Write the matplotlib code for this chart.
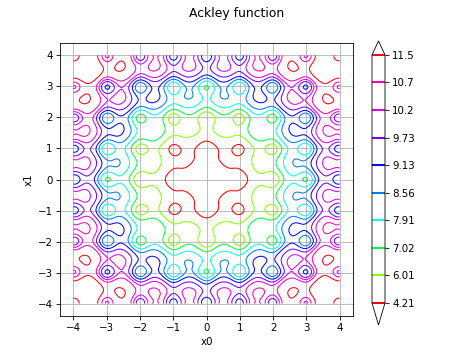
import numpy as np
import matplotlib
matplotlib.use("Agg")
import matplotlib.pyplot as plt

# contour levels shown on the colorbar
levels = [4.21, 6.01, 7.02, 7.91, 8.56, 9.13, 9.73, 10.2, 10.7, 11.5]
level_labels = ["4.21", "6.01", "7.02", "7.91", "8.56", "9.13", "9.73", "10.2", "10.7", "11.5"]
ticks = [-4, -3, -2, -1, 0, 1, 2, 3, 4]

# domain of the Ackley function
x_min, x_max = -4.0, 4.0
n_points = 200


def ackley(x0, x1, a=20.0, b=0.2, c=2.0 * np.pi):
    """Ackley function in 2D."""
    r = np.sqrt(0.5 * (x0 ** 2 + x1 ** 2))
    s = 0.5 * (np.cos(c * x0) + np.cos(c * x1))
    return -a * np.exp(-b * r) - np.exp(s) + a + np.e


x = np.linspace(x_min, x_max, n_points)
X0, X1 = np.meshgrid(x, x)
Z = ackley(X0, X1)

W, H = 474, 355
fig = plt.figure(figsize=(W / 74, H / 74), dpi=74)
ax = fig.add_axes([60 / W, (H - 316) / H, (353 - 60) / W, (316 - 43) / H])

cs = ax.contour(X0, X1, Z, levels=levels, cmap="hsv", linewidths=1.0, extend="both")
ax.set_xlim(-4.4, 4.4)
ax.set_ylim(-4.4, 4.4)
ax.set_xticks(ticks)
ax.set_yticks(ticks)
ax.set_xlabel("x0")
ax.set_ylabel("x1")
ax.grid(True)

cax = fig.add_axes([372 / W, (H - 325) / H, 13 / W, (325 - 41) / H])
cb = fig.colorbar(cs, cax=cax, extendfrac=[0.089, 0.056])
cb.set_ticks(levels)
cb.set_ticklabels(level_labels)
# thicker level marks inside the colorbar
for lc in cb.lines:
    lc.set_linewidth(2.0)

fig.suptitle("Ackley function")

fig.savefig("out.png", dpi=74)
